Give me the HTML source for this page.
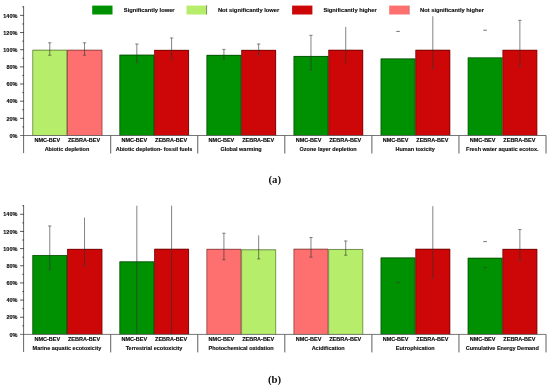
<!DOCTYPE html>
<html><head><meta charset="utf-8"><title>Figure</title>
<style>html,body{margin:0;padding:0;background:#fff}svg{display:block}
.t{font-family:"Liberation Sans",Arial,sans-serif;font-weight:bold;fill:#0a0a0a;stroke:#0a0a0a;stroke-width:0.12px}
.c{font-family:"Liberation Serif","DejaVu Serif",serif;font-weight:bold;fill:#111;font-size:10.8px}
</style></head><body>
<svg width="550" height="388" viewBox="0 0 550 388">
<rect width="550" height="388" fill="#fff"/>
<rect x="32.40" y="49.85" width="34.75" height="85.65" fill="#b6ee6c"/>
<path d="M32.70 135.50V50.15H66.85V135.50" stroke="#000" stroke-opacity="0.60" stroke-width="0.6" fill="none"/>
<path d="M32.40 50.15H67.15" stroke="#000" stroke-opacity="0.15" stroke-width="0.6" fill="none"/>
<rect x="67.15" y="49.85" width="35.15" height="85.65" fill="#fd706f"/>
<path d="M67.45 135.50V50.15H102.00V135.50" stroke="#000" stroke-opacity="0.60" stroke-width="0.6" fill="none"/>
<path d="M67.15 50.15H102.30" stroke="#000" stroke-opacity="0.15" stroke-width="0.6" fill="none"/>
<path d="M49.77 42.60V55.40" stroke="#303030" stroke-width="0.6" fill="none"/>
<path d="M48.07 42.80h3.4M48.07 55.20h3.4" stroke="#444" stroke-width="0.6" fill="none"/>
<path d="M84.53 42.60V55.40" stroke="#303030" stroke-width="0.6" fill="none"/>
<path d="M82.83 42.80h3.4M82.83 55.20h3.4" stroke="#444" stroke-width="0.6" fill="none"/>
<text class="t" font-size="4.6" text-anchor="middle" transform="translate(47.27 142.00) scale(1.196 1)">NMC-BEV</text>
<text class="t" font-size="4.6" text-anchor="middle" transform="translate(84.03 142.00) scale(1.196 1)">ZEBRA-BEV</text>
<text class="t" font-size="5.5" text-anchor="middle" x="66.95" y="151.10">Abiotic depletion</text>
<path d="M110.69 135.50V153.50" stroke="#2a2a2a" stroke-width="0.75" fill="none"/>
<rect x="119.47" y="54.75" width="34.75" height="80.75" fill="#009102"/>
<path d="M119.77 135.50V55.05H153.92V135.50" stroke="#000" stroke-opacity="0.60" stroke-width="0.6" fill="none"/>
<path d="M119.47 55.05H154.22" stroke="#000" stroke-opacity="0.15" stroke-width="0.6" fill="none"/>
<rect x="154.22" y="49.95" width="34.75" height="85.55" fill="#cd0707"/>
<path d="M154.52 135.50V50.25H188.67V135.50" stroke="#000" stroke-opacity="0.60" stroke-width="0.6" fill="none"/>
<path d="M154.22 50.25H188.97" stroke="#000" stroke-opacity="0.15" stroke-width="0.6" fill="none"/>
<path d="M136.84 43.80V63.00" stroke="#303030" stroke-width="0.6" fill="none"/>
<path d="M135.15 44.00h3.4M135.15 62.80h3.4" stroke="#444" stroke-width="0.6" fill="none"/>
<path d="M171.59 37.80V59.60" stroke="#303030" stroke-width="0.6" fill="none"/>
<path d="M169.90 38.00h3.4M169.90 59.40h3.4" stroke="#444" stroke-width="0.6" fill="none"/>
<text class="t" font-size="4.6" text-anchor="middle" transform="translate(134.34 142.00) scale(1.196 1)">NMC-BEV</text>
<text class="t" font-size="4.6" text-anchor="middle" transform="translate(171.09 142.00) scale(1.196 1)">ZEBRA-BEV</text>
<text class="t" font-size="5.5" text-anchor="middle" x="154.02" y="151.10">Abiotic depletion- fossil fuels</text>
<path d="M197.75 135.50V153.50" stroke="#2a2a2a" stroke-width="0.75" fill="none"/>
<rect x="206.54" y="54.95" width="34.75" height="80.55" fill="#009102"/>
<path d="M206.84 135.50V55.25H240.99V135.50" stroke="#000" stroke-opacity="0.60" stroke-width="0.6" fill="none"/>
<path d="M206.54 55.25H241.29" stroke="#000" stroke-opacity="0.15" stroke-width="0.6" fill="none"/>
<rect x="241.29" y="49.95" width="34.75" height="85.55" fill="#cd0707"/>
<path d="M241.59 135.50V50.25H275.74V135.50" stroke="#000" stroke-opacity="0.60" stroke-width="0.6" fill="none"/>
<path d="M241.29 50.25H276.04" stroke="#000" stroke-opacity="0.15" stroke-width="0.6" fill="none"/>
<path d="M223.91 49.20V59.40" stroke="#303030" stroke-width="0.6" fill="none"/>
<path d="M222.22 49.40h3.4M222.22 59.20h3.4" stroke="#444" stroke-width="0.6" fill="none"/>
<path d="M258.66 43.80V55.00" stroke="#303030" stroke-width="0.6" fill="none"/>
<path d="M256.96 44.00h3.4M256.96 54.80h3.4" stroke="#444" stroke-width="0.6" fill="none"/>
<text class="t" font-size="4.6" text-anchor="middle" transform="translate(221.41 142.00) scale(1.196 1)">NMC-BEV</text>
<text class="t" font-size="4.6" text-anchor="middle" transform="translate(258.16 142.00) scale(1.196 1)">ZEBRA-BEV</text>
<text class="t" font-size="5.5" text-anchor="middle" x="241.09" y="151.10">Global warming</text>
<path d="M284.82 135.50V153.50" stroke="#2a2a2a" stroke-width="0.75" fill="none"/>
<rect x="293.61" y="56.05" width="34.75" height="79.45" fill="#009102"/>
<path d="M293.91 135.50V56.35H328.06V135.50" stroke="#000" stroke-opacity="0.60" stroke-width="0.6" fill="none"/>
<path d="M293.61 56.35H328.36" stroke="#000" stroke-opacity="0.15" stroke-width="0.6" fill="none"/>
<rect x="328.36" y="49.85" width="34.75" height="85.65" fill="#cd0707"/>
<path d="M328.66 135.50V50.15H362.81V135.50" stroke="#000" stroke-opacity="0.60" stroke-width="0.6" fill="none"/>
<path d="M328.36 50.15H363.11" stroke="#000" stroke-opacity="0.15" stroke-width="0.6" fill="none"/>
<path d="M310.98 35.10V70.40" stroke="#303030" stroke-width="0.6" fill="none"/>
<path d="M309.28 35.30h3.4M309.28 70.20h3.4" stroke="#444" stroke-width="0.6" fill="none"/>
<path d="M345.73 26.90V64.60" stroke="#303030" stroke-width="0.6" fill="none"/>
<text class="t" font-size="4.6" text-anchor="middle" transform="translate(308.48 142.00) scale(1.196 1)">NMC-BEV</text>
<text class="t" font-size="4.6" text-anchor="middle" transform="translate(345.23 142.00) scale(1.196 1)">ZEBRA-BEV</text>
<text class="t" font-size="5.5" text-anchor="middle" x="328.16" y="151.10">Ozone layer depletion</text>
<path d="M371.89 135.50V153.50" stroke="#2a2a2a" stroke-width="0.75" fill="none"/>
<rect x="380.68" y="58.55" width="34.75" height="76.95" fill="#009102"/>
<path d="M380.98 135.50V58.85H415.13V135.50" stroke="#000" stroke-opacity="0.60" stroke-width="0.6" fill="none"/>
<path d="M380.68 58.85H415.43" stroke="#000" stroke-opacity="0.15" stroke-width="0.6" fill="none"/>
<rect x="415.43" y="49.85" width="34.75" height="85.65" fill="#cd0707"/>
<path d="M415.73 135.50V50.15H449.88V135.50" stroke="#000" stroke-opacity="0.60" stroke-width="0.6" fill="none"/>
<path d="M415.43 50.15H450.18" stroke="#000" stroke-opacity="0.15" stroke-width="0.6" fill="none"/>
<path d="M396.25 31.40h3.6" stroke="#3a3a3a" stroke-width="0.7" fill="none"/>
<path d="M432.80 16.20V68.70" stroke="#303030" stroke-width="0.6" fill="none"/>
<path d="M431.10 68.50h3.4" stroke="#444" stroke-width="0.6" fill="none"/>
<text class="t" font-size="4.6" text-anchor="middle" transform="translate(395.55 142.00) scale(1.196 1)">NMC-BEV</text>
<text class="t" font-size="4.6" text-anchor="middle" transform="translate(432.30 142.00) scale(1.196 1)">ZEBRA-BEV</text>
<text class="t" font-size="5.5" text-anchor="middle" x="415.23" y="151.10">Human toxicity</text>
<path d="M458.96 135.50V153.50" stroke="#2a2a2a" stroke-width="0.75" fill="none"/>
<rect x="467.75" y="57.45" width="34.75" height="78.05" fill="#009102"/>
<path d="M468.05 135.50V57.75H502.20V135.50" stroke="#000" stroke-opacity="0.45" stroke-width="0.6" fill="none"/>
<path d="M467.75 57.75H502.50" stroke="#000" stroke-opacity="0.11" stroke-width="0.6" fill="none"/>
<rect x="502.50" y="49.85" width="34.75" height="85.65" fill="#cd0707"/>
<path d="M502.80 135.50V50.15H536.95V135.50" stroke="#000" stroke-opacity="0.45" stroke-width="0.6" fill="none"/>
<path d="M502.50 50.15H537.25" stroke="#000" stroke-opacity="0.11" stroke-width="0.6" fill="none"/>
<path d="M483.32 30.20h3.6" stroke="#3a3a3a" stroke-width="0.7" fill="none"/>
<path d="M519.88 20.10V66.50" stroke="#303030" stroke-width="0.6" fill="none"/>
<path d="M518.17 20.30h3.4M518.17 66.30h3.4" stroke="#444" stroke-width="0.6" fill="none"/>
<text class="t" font-size="4.6" text-anchor="middle" transform="translate(482.62 142.00) scale(1.196 1)">NMC-BEV</text>
<text class="t" font-size="4.6" text-anchor="middle" transform="translate(519.38 142.00) scale(1.196 1)">ZEBRA-BEV</text>
<text class="t" font-size="5.5" text-anchor="middle" x="502.30" y="151.10">Fresh water aquatic ecotox.</text>
<path d="M546.03 135.50V153.50" stroke="#2a2a2a" stroke-width="0.75" fill="none"/>
<path d="M23.6 6.30V153.10" stroke="#555" stroke-width="0.9" fill="none"/>
<path d="M20 135.50H546.1" stroke="#4a4a4a" stroke-width="0.75" fill="none"/>
<text class="t" font-size="5.5" text-anchor="end" x="17.4" y="137.70">0%</text>
<text class="t" font-size="5.5" text-anchor="end" x="17.4" y="120.54">20%</text>
<text class="t" font-size="5.5" text-anchor="end" x="17.4" y="103.38">40%</text>
<text class="t" font-size="5.5" text-anchor="end" x="17.4" y="86.22">60%</text>
<text class="t" font-size="5.5" text-anchor="end" x="17.4" y="69.06">80%</text>
<text class="t" font-size="5.5" text-anchor="end" x="17.4" y="51.90">100%</text>
<text class="t" font-size="5.5" text-anchor="end" x="17.4" y="34.74">120%</text>
<text class="t" font-size="5.5" text-anchor="end" x="17.4" y="17.58">140%</text>
<path d="M22.3 126.92H24M20 118.34H24M22.3 109.76H24M20 101.18H24M22.3 92.60H24M20 84.02H24M22.3 75.44H24M20 66.86H24M22.3 58.28H24M20 49.70H24M22.3 41.12H24M20 32.54H24M22.3 23.96H24M20 15.38H24M22.3 6.80H24" stroke="#333" stroke-width="0.8" fill="none"/>
<rect x="32.40" y="255.15" width="34.75" height="79.25" fill="#009102"/>
<path d="M32.70 334.40V255.45H66.85V334.40" stroke="#000" stroke-opacity="0.60" stroke-width="0.6" fill="none"/>
<path d="M32.40 255.45H67.15" stroke="#000" stroke-opacity="0.15" stroke-width="0.6" fill="none"/>
<rect x="67.15" y="248.95" width="35.15" height="85.45" fill="#cd0707"/>
<path d="M67.45 334.40V249.25H102.00V334.40" stroke="#000" stroke-opacity="0.60" stroke-width="0.6" fill="none"/>
<path d="M67.15 249.25H102.30" stroke="#000" stroke-opacity="0.15" stroke-width="0.6" fill="none"/>
<path d="M49.77 225.80V270.00" stroke="#303030" stroke-width="0.6" fill="none"/>
<path d="M48.07 226.00h3.4M48.07 269.80h3.4" stroke="#444" stroke-width="0.6" fill="none"/>
<path d="M84.53 217.50V265.50" stroke="#303030" stroke-width="0.6" fill="none"/>
<path d="M82.83 265.30h3.4" stroke="#444" stroke-width="0.6" fill="none"/>
<text class="t" font-size="4.6" text-anchor="middle" transform="translate(47.27 340.90) scale(1.196 1)">NMC-BEV</text>
<text class="t" font-size="4.6" text-anchor="middle" transform="translate(84.03 340.90) scale(1.196 1)">ZEBRA-BEV</text>
<text class="t" font-size="5.5" text-anchor="middle" x="66.95" y="350.20">Marine aquatic ecotoxicity</text>
<path d="M110.69 334.40V352.40" stroke="#2a2a2a" stroke-width="0.75" fill="none"/>
<rect x="119.47" y="261.45" width="34.75" height="72.95" fill="#009102"/>
<path d="M119.77 334.40V261.75H153.92V334.40" stroke="#000" stroke-opacity="0.60" stroke-width="0.6" fill="none"/>
<path d="M119.47 261.75H154.22" stroke="#000" stroke-opacity="0.15" stroke-width="0.6" fill="none"/>
<rect x="154.22" y="248.85" width="34.75" height="85.55" fill="#cd0707"/>
<path d="M154.52 334.40V249.15H188.67V334.40" stroke="#000" stroke-opacity="0.60" stroke-width="0.6" fill="none"/>
<path d="M154.22 249.15H188.97" stroke="#000" stroke-opacity="0.15" stroke-width="0.6" fill="none"/>
<path d="M136.84 205.70V334.40" stroke="#303030" stroke-width="0.6" fill="none"/>
<path d="M171.59 205.70V334.40" stroke="#303030" stroke-width="0.6" fill="none"/>
<text class="t" font-size="4.6" text-anchor="middle" transform="translate(134.34 340.90) scale(1.196 1)">NMC-BEV</text>
<text class="t" font-size="4.6" text-anchor="middle" transform="translate(171.09 340.90) scale(1.196 1)">ZEBRA-BEV</text>
<text class="t" font-size="5.5" text-anchor="middle" x="154.02" y="350.20">Terrestrial ecotoxicity</text>
<path d="M197.75 334.40V352.40" stroke="#2a2a2a" stroke-width="0.75" fill="none"/>
<rect x="206.54" y="248.95" width="34.75" height="85.45" fill="#fd706f"/>
<path d="M206.84 334.40V249.25H240.99V334.40" stroke="#000" stroke-opacity="0.60" stroke-width="0.6" fill="none"/>
<path d="M206.54 249.25H241.29" stroke="#000" stroke-opacity="0.15" stroke-width="0.6" fill="none"/>
<rect x="241.29" y="249.45" width="34.75" height="84.95" fill="#b6ee6c"/>
<path d="M241.59 334.40V249.75H275.74V334.40" stroke="#000" stroke-opacity="0.60" stroke-width="0.6" fill="none"/>
<path d="M241.29 249.75H276.04" stroke="#000" stroke-opacity="0.15" stroke-width="0.6" fill="none"/>
<path d="M223.91 233.00V260.00" stroke="#303030" stroke-width="0.6" fill="none"/>
<path d="M222.22 233.20h3.4M222.22 259.80h3.4" stroke="#444" stroke-width="0.6" fill="none"/>
<path d="M258.66 235.40V259.10" stroke="#303030" stroke-width="0.6" fill="none"/>
<path d="M256.96 258.90h3.4" stroke="#444" stroke-width="0.6" fill="none"/>
<text class="t" font-size="4.6" text-anchor="middle" transform="translate(221.41 340.90) scale(1.196 1)">NMC-BEV</text>
<text class="t" font-size="4.6" text-anchor="middle" transform="translate(258.16 340.90) scale(1.196 1)">ZEBRA-BEV</text>
<text class="t" font-size="5.5" text-anchor="middle" x="241.09" y="350.20">Photochemical oxidation</text>
<path d="M284.82 334.40V352.40" stroke="#2a2a2a" stroke-width="0.75" fill="none"/>
<rect x="293.61" y="248.85" width="34.75" height="85.55" fill="#fd706f"/>
<path d="M293.91 334.40V249.15H328.06V334.40" stroke="#000" stroke-opacity="0.60" stroke-width="0.6" fill="none"/>
<path d="M293.61 249.15H328.36" stroke="#000" stroke-opacity="0.15" stroke-width="0.6" fill="none"/>
<rect x="328.36" y="249.15" width="34.75" height="85.25" fill="#b6ee6c"/>
<path d="M328.66 334.40V249.45H362.81V334.40" stroke="#000" stroke-opacity="0.60" stroke-width="0.6" fill="none"/>
<path d="M328.36 249.45H363.11" stroke="#000" stroke-opacity="0.15" stroke-width="0.6" fill="none"/>
<path d="M310.98 237.30V257.30" stroke="#303030" stroke-width="0.6" fill="none"/>
<path d="M309.28 237.50h3.4M309.28 257.10h3.4" stroke="#444" stroke-width="0.6" fill="none"/>
<path d="M345.73 240.80V255.40" stroke="#303030" stroke-width="0.6" fill="none"/>
<path d="M344.03 241.00h3.4M344.03 255.20h3.4" stroke="#444" stroke-width="0.6" fill="none"/>
<text class="t" font-size="4.6" text-anchor="middle" transform="translate(308.48 340.90) scale(1.196 1)">NMC-BEV</text>
<text class="t" font-size="4.6" text-anchor="middle" transform="translate(345.23 340.90) scale(1.196 1)">ZEBRA-BEV</text>
<text class="t" font-size="5.5" text-anchor="middle" x="328.16" y="350.20">Acidification</text>
<path d="M371.89 334.40V352.40" stroke="#2a2a2a" stroke-width="0.75" fill="none"/>
<rect x="380.68" y="257.55" width="34.75" height="76.85" fill="#009102"/>
<path d="M380.98 334.40V257.85H415.13V334.40" stroke="#000" stroke-opacity="0.60" stroke-width="0.6" fill="none"/>
<path d="M380.68 257.85H415.43" stroke="#000" stroke-opacity="0.15" stroke-width="0.6" fill="none"/>
<rect x="415.43" y="248.85" width="34.75" height="85.55" fill="#cd0707"/>
<path d="M415.73 334.40V249.15H449.88V334.40" stroke="#000" stroke-opacity="0.60" stroke-width="0.6" fill="none"/>
<path d="M415.43 249.15H450.18" stroke="#000" stroke-opacity="0.15" stroke-width="0.6" fill="none"/>
<path d="M396.25 282.40h3.6" stroke="#3a3a3a" stroke-width="0.7" fill="none"/>
<path d="M432.80 206.20V278.30" stroke="#303030" stroke-width="0.6" fill="none"/>
<path d="M431.10 278.10h3.4" stroke="#444" stroke-width="0.6" fill="none"/>
<text class="t" font-size="4.6" text-anchor="middle" transform="translate(395.55 340.90) scale(1.196 1)">NMC-BEV</text>
<text class="t" font-size="4.6" text-anchor="middle" transform="translate(432.30 340.90) scale(1.196 1)">ZEBRA-BEV</text>
<text class="t" font-size="5.5" text-anchor="middle" x="415.23" y="350.20">Eutrophication</text>
<path d="M458.96 334.40V352.40" stroke="#2a2a2a" stroke-width="0.75" fill="none"/>
<rect x="467.75" y="257.85" width="34.75" height="76.55" fill="#009102"/>
<path d="M468.05 334.40V258.15H502.20V334.40" stroke="#000" stroke-opacity="0.60" stroke-width="0.6" fill="none"/>
<path d="M467.75 258.15H502.50" stroke="#000" stroke-opacity="0.15" stroke-width="0.6" fill="none"/>
<rect x="502.50" y="248.95" width="34.75" height="85.45" fill="#cd0707"/>
<path d="M502.80 334.40V249.25H536.95V334.40" stroke="#000" stroke-opacity="0.60" stroke-width="0.6" fill="none"/>
<path d="M502.50 249.25H537.25" stroke="#000" stroke-opacity="0.15" stroke-width="0.6" fill="none"/>
<path d="M483.32 241.60h3.6" stroke="#3a3a3a" stroke-width="0.7" fill="none"/>
<path d="M483.32 267.60h3.6" stroke="#3a3a3a" stroke-width="0.7" fill="none"/>
<path d="M519.88 229.30V260.80" stroke="#303030" stroke-width="0.6" fill="none"/>
<path d="M518.17 229.50h3.4M518.17 260.60h3.4" stroke="#444" stroke-width="0.6" fill="none"/>
<text class="t" font-size="4.6" text-anchor="middle" transform="translate(482.62 340.90) scale(1.196 1)">NMC-BEV</text>
<text class="t" font-size="4.6" text-anchor="middle" transform="translate(519.38 340.90) scale(1.196 1)">ZEBRA-BEV</text>
<text class="t" font-size="5.5" text-anchor="middle" x="502.30" y="350.20">Cumulative Energy Demand</text>
<path d="M546.03 334.40V352.40" stroke="#2a2a2a" stroke-width="0.75" fill="none"/>
<path d="M23.6 205.30V352.00" stroke="#555" stroke-width="0.9" fill="none"/>
<path d="M20 334.40H546.1" stroke="#4a4a4a" stroke-width="0.75" fill="none"/>
<text class="t" font-size="5.5" text-anchor="end" x="17.4" y="336.60">0%</text>
<text class="t" font-size="5.5" text-anchor="end" x="17.4" y="319.44">20%</text>
<text class="t" font-size="5.5" text-anchor="end" x="17.4" y="302.28">40%</text>
<text class="t" font-size="5.5" text-anchor="end" x="17.4" y="285.12">60%</text>
<text class="t" font-size="5.5" text-anchor="end" x="17.4" y="267.96">80%</text>
<text class="t" font-size="5.5" text-anchor="end" x="17.4" y="250.80">100%</text>
<text class="t" font-size="5.5" text-anchor="end" x="17.4" y="233.64">120%</text>
<text class="t" font-size="5.5" text-anchor="end" x="17.4" y="216.48">140%</text>
<path d="M22.3 325.82H24M20 317.24H24M22.3 308.66H24M20 300.08H24M22.3 291.50H24M20 282.92H24M22.3 274.34H24M20 265.76H24M22.3 257.18H24M20 248.60H24M22.3 240.02H24M20 231.44H24M22.3 222.86H24M20 214.28H24M22.3 205.70H24" stroke="#333" stroke-width="0.8" fill="none"/>
<rect x="92.20" y="5.6" width="20.3" height="8.9" fill="#009102"/>
<text class="t" font-size="5.75" x="123.80" y="12.1">Significantly lower</text>
<rect x="186.50" y="5.6" width="20.3" height="8.9" fill="#b6ee6c"/>
<text class="t" font-size="5.75" x="217.90" y="12.1">Not significantly lower</text>
<rect x="292.10" y="5.6" width="20.3" height="8.9" fill="#cd0707"/>
<text class="t" font-size="5.75" x="323.40" y="12.1">Significantly higher</text>
<rect x="389.20" y="5.6" width="20.3" height="8.9" fill="#fd706f"/>
<text class="t" font-size="5.75" x="420.00" y="12.1">Not significantly higher</text>
<path d="M206.6 5.2V14.5" stroke="#444" stroke-width="0.6" fill="none"/>
<path d="M409.3 5.6V14.5" stroke="#000" stroke-opacity="0.3" stroke-width="0.5" fill="none"/>
<text class="c" text-anchor="middle" x="274.7" y="183.0">(a)</text>
<text class="c" text-anchor="middle" x="274.6" y="382.7">(b)</text>
</svg>
</body></html>
